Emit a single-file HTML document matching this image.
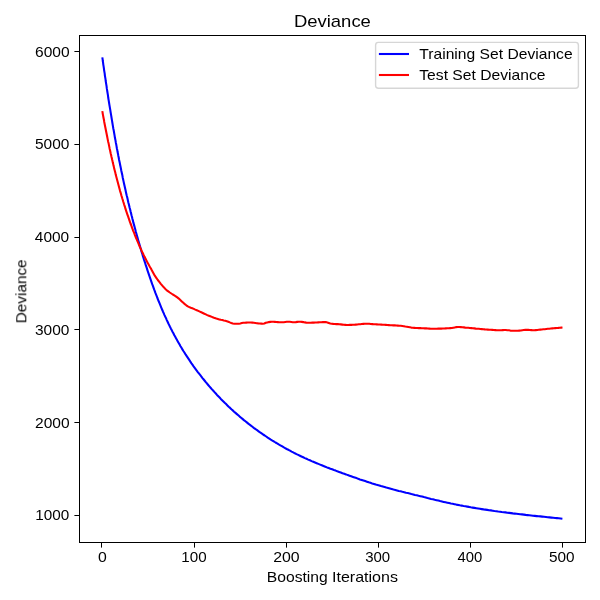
<!DOCTYPE html>
<html>
<head>
<meta charset="utf-8">
<title>Deviance</title>
<style>
html,body{margin:0;padding:0;background:#ffffff;}
body{width:600px;height:600px;overflow:hidden;}
svg{display:block;}
text{font-family:"Liberation Sans",sans-serif;fill:#000000;}
.tk{font-size:14.4px;}
.lb{font-size:14.4px;}
.tt{font-size:17.0px;}
.ax{stroke:#000000;stroke-width:1.11;fill:none;shape-rendering:crispEdges;}
.tick{stroke:#000000;stroke-width:1.11;shape-rendering:crispEdges;}
</style>
</head>
<body>
<svg width="600" height="600" viewBox="0 0 600 600">
<rect x="0" y="0" width="600" height="600" fill="#ffffff"/>
<!-- training curve -->
<path d="M102.3 57.3 L102.6 59.1 L102.8 61.0 L103.1 62.8 L103.3 64.6 L103.6 66.4 L103.9 68.3 L104.1 70.1 L104.4 71.9 L104.7 73.7 L104.9 75.6 L105.2 77.4 L105.5 79.2 L105.7 81.0 L106.0 82.9 L106.3 84.7 L106.6 86.5 L106.8 88.4 L107.1 90.2 L107.4 92.0 L107.7 93.8 L108.0 95.7 L108.2 97.5 L108.5 99.3 L108.8 101.1 L109.1 103.0 L109.4 104.8 L109.7 106.6 L110.0 108.4 L110.3 110.2 L110.6 112.1 L110.9 113.9 L111.2 115.7 L111.5 117.5 L111.8 119.4 L112.1 121.2 L112.4 123.0 L112.7 124.8 L113.0 126.6 L113.3 128.5 L113.7 130.3 L114.0 132.1 L114.3 133.9 L114.6 135.7 L114.9 137.6 L115.3 139.4 L115.6 141.2 L115.9 143.0 L116.3 144.8 L116.6 146.7 L116.9 148.5 L117.3 150.3 L117.6 152.1 L118.0 153.9 L118.3 155.7 L118.7 157.5 L119.0 159.4 L119.4 161.2 L119.8 163.0 L120.1 164.8 L120.5 166.6 L120.9 168.4 L121.2 170.2 L121.6 172.0 L122.0 173.8 L122.4 175.6 L122.7 177.4 L123.1 179.2 L123.5 181.1 L123.9 182.9 L124.3 184.7 L124.7 186.5 L125.1 188.3 L125.5 190.1 L125.9 191.9 L126.3 193.7 L126.7 195.5 L127.2 197.3 L127.6 199.1 L128.0 200.9 L128.4 202.7 L128.9 204.5 L129.3 206.2 L129.7 208.0 L130.2 209.8 L130.6 211.6 L131.1 213.4 L131.5 215.2 L132.0 217.0 L132.4 218.8 L132.9 220.6 L133.3 222.4 L133.8 224.1 L134.3 225.9 L134.8 227.7 L135.3 229.5 L135.7 231.3 L136.2 233.1 L136.7 234.8 L137.2 236.6 L137.7 238.4 L138.2 240.2 L138.7 241.9 L139.2 243.7 L139.8 245.5 L140.3 247.3 L140.8 249.0 L141.3 250.8 L141.9 252.6 L142.4 254.3 L142.9 256.1 L143.5 257.9 L144.0 259.6 L144.6 261.4 L145.2 263.2 L145.7 264.9 L146.3 266.7 L146.9 268.4 L147.4 270.2 L148.0 271.9 L148.6 273.7 L149.2 275.4 L149.8 277.2 L150.4 278.9 L151.0 280.7 L151.6 282.4 L152.2 284.2 L152.9 285.9 L153.5 287.7 L154.1 289.4 L154.8 291.1 L155.4 292.9 L156.1 294.6 L156.8 296.3 L157.4 298.0 L158.1 299.8 L158.8 301.5 L159.5 303.2 L160.2 304.9 L160.9 306.6 L161.6 308.3 L162.3 310.0 L163.0 311.7 L163.8 313.4 L164.5 315.1 L165.3 316.8 L166.1 318.4 L166.8 320.1 L167.6 321.8 L168.4 323.5 L169.2 325.1 L170.0 326.8 L170.8 328.4 L171.7 330.1 L172.5 331.7 L173.4 333.3 L174.2 335.0 L175.1 336.6 L176.0 338.2 L176.9 339.8 L177.8 341.4 L178.7 343.0 L179.6 344.6 L180.5 346.2 L181.5 347.8 L182.4 349.4 L183.4 351.0 L184.4 352.5 L185.4 354.1 L186.4 355.6 L187.4 357.2 L188.4 358.7 L189.4 360.2 L190.5 361.8 L191.5 363.3 L192.6 364.8 L193.6 366.3 L194.7 367.8 L195.8 369.3 L196.9 370.8 L198.0 372.3 L199.1 373.7 L200.3 375.2 L201.4 376.6 L202.5 378.1 L203.7 379.5 L204.9 381.0 L206.0 382.4 L207.2 383.8 L208.4 385.2 L209.6 386.6 L210.8 388.0 L212.0 389.4 L213.3 390.8 L214.5 392.1 L215.8 393.5 L217.0 394.9 L218.3 396.2 L219.6 397.5 L220.8 398.9 L222.1 400.2 L223.4 401.5 L224.7 402.8 L226.1 404.1 L227.4 405.4 L228.7 406.7 L230.1 407.9 L231.4 409.2 L232.8 410.4 L234.1 411.7 L235.5 412.9 L236.9 414.1 L238.3 415.3 L239.7 416.6 L241.1 417.7 L242.5 418.9 L243.9 420.1 L245.4 421.3 L246.8 422.4 L248.3 423.6 L249.7 424.7 L251.2 425.8 L252.7 427.0 L254.1 428.1 L255.6 429.2 L257.1 430.2 L258.6 431.3 L260.1 432.4 L261.6 433.4 L263.1 434.5 L264.7 435.5 L266.2 436.5 L267.7 437.6 L269.3 438.6 L270.8 439.6 L272.4 440.6 L274.0 441.5 L275.5 442.5 L277.1 443.4 L278.7 444.4 L280.3 445.3 L281.9 446.2 L283.5 447.2 L285.1 448.1 L286.7 449.0 L288.4 449.8 L290.0 450.7 L291.6 451.6 L293.2 452.4 L294.9 453.3 L296.5 454.1 L298.2 454.9 L299.9 455.7 L301.5 456.5 L303.2 457.3 L304.9 458.1 L306.5 458.8 L308.2 459.6 L309.9 460.3 L311.6 461.1 L313.3 461.8 L315.0 462.5 L316.7 463.2 L318.4 463.9 L320.1 464.6 L321.8 465.3 L323.5 466.0 L325.3 466.7 L327.0 467.4 L328.7 468.0 L330.4 468.7 L332.2 469.3 L333.9 470.0 L335.6 470.6 L337.3 471.3 L339.1 471.9 L340.8 472.5 L342.5 473.2 L344.3 473.8 L346.0 474.4 L347.8 475.1 L349.5 475.7 L351.2 476.3 L353.0 476.9 L354.7 477.5 L356.5 478.1 L358.2 478.8 L359.9 479.4 L361.7 479.9 L363.4 480.5 L365.2 481.1 L366.9 481.7 L368.7 482.3 L370.4 482.8 L372.2 483.4 L374.0 483.9 L375.7 484.5 L377.5 485.0 L379.3 485.5 L381.0 486.1 L382.8 486.6 L384.6 487.1 L386.3 487.6 L388.1 488.0 L389.9 488.5 L391.7 489.0 L393.5 489.5 L395.3 489.9 L397.0 490.4 L398.8 490.9 L400.6 491.3 L402.4 491.8 L404.2 492.2 L406.0 492.7 L407.8 493.1 L409.6 493.5 L411.4 494.0 L413.2 494.4 L415.0 494.9 L416.8 495.3 L418.6 495.8 L420.3 496.2 L422.1 496.6 L423.9 497.1 L425.7 497.5 L427.5 498.0 L429.3 498.4 L431.1 498.9 L432.9 499.3 L434.7 499.8 L436.5 500.2 L438.3 500.6 L440.1 501.1 L441.9 501.5 L443.7 501.9 L445.5 502.3 L447.3 502.7 L449.1 503.1 L450.9 503.5 L452.7 503.8 L454.5 504.2 L456.3 504.6 L458.1 504.9 L459.9 505.3 L461.7 505.6 L463.5 506.0 L465.4 506.3 L467.2 506.6 L469.0 506.9 L470.8 507.3 L472.6 507.6 L474.4 507.9 L476.3 508.2 L478.1 508.5 L479.9 508.8 L481.7 509.1 L483.6 509.4 L485.4 509.6 L487.2 509.9 L489.0 510.2 L490.9 510.4 L492.7 510.7 L494.5 511.0 L496.3 511.2 L498.2 511.5 L500.0 511.7 L501.8 512.0 L503.7 512.2 L505.5 512.4 L507.3 512.7 L509.2 512.9 L511.0 513.1 L512.8 513.4 L514.7 513.6 L516.5 513.8 L518.3 514.0 L520.2 514.2 L522.0 514.4 L523.8 514.6 L525.7 514.9 L527.5 515.1 L529.3 515.3 L531.2 515.5 L533.0 515.7 L534.8 515.9 L536.7 516.1 L538.5 516.3 L540.4 516.4 L542.2 516.6 L544.0 516.8 L545.9 517.0 L547.7 517.2 L549.5 517.4 L551.4 517.6 L553.2 517.8 L555.1 518.0 L556.9 518.1 L558.7 518.3 L560.6 518.5 L562.4 518.7" fill="none" stroke="#0000ff" stroke-width="2.08" stroke-linejoin="round" stroke-linecap="butt"/>
<!-- test curve -->
<path d="M102.3 111.1 L102.6 112.6 L102.8 114.1 L103.1 115.6 L103.4 117.2 L103.7 118.7 L104.0 120.2 L104.2 121.7 L104.5 123.2 L104.8 124.7 L105.1 126.2 L105.4 127.8 L105.7 129.3 L106.0 130.8 L106.3 132.3 L106.6 133.8 L106.9 135.3 L107.2 136.8 L107.5 138.4 L107.8 139.9 L108.1 141.4 L108.5 142.9 L108.8 144.4 L109.1 145.9 L109.4 147.4 L109.7 149.0 L110.1 150.5 L110.4 152.0 L110.7 153.5 L111.1 155.0 L111.4 156.5 L111.8 158.0 L112.1 159.5 L112.5 161.1 L112.8 162.6 L113.2 164.1 L113.5 165.6 L113.9 167.1 L114.2 168.6 L114.6 170.1 L115.0 171.6 L115.4 173.1 L115.7 174.6 L116.1 176.1 L116.5 177.6 L116.9 179.1 L117.3 180.6 L117.7 182.1 L118.1 183.6 L118.5 185.1 L118.9 186.6 L119.3 188.1 L119.7 189.6 L120.1 191.1 L120.6 192.6 L121.0 194.1 L121.4 195.6 L121.9 197.0 L122.3 198.5 L122.8 200.0 L123.2 201.5 L123.7 203.0 L124.1 204.5 L124.6 205.9 L125.1 207.4 L125.5 208.9 L126.0 210.4 L126.5 211.8 L127.0 213.3 L127.5 214.8 L128.0 216.2 L128.5 217.7 L129.0 219.2 L129.5 220.6 L130.0 222.1 L130.5 223.5 L131.1 225.0 L131.6 226.4 L132.1 227.9 L132.7 229.3 L133.2 230.8 L133.8 232.2 L134.4 233.7 L134.9 235.1 L135.5 236.5 L136.1 238.0 L136.7 239.4 L137.3 240.8 L137.9 242.2 L138.5 243.7 L139.1 245.1 L139.7 246.5 L140.3 247.9 L141.0 249.3 L141.6 250.7 L142.3 252.1 L143.0 253.5 L143.6 254.9 L144.3 256.3 L145.0 257.6 L145.7 259.0 L146.4 260.4 L147.1 261.8 L147.8 263.1 L148.6 264.5 L149.3 265.8 L150.1 267.2 L150.9 268.5 L151.6 269.8 L151.8 270.2 L153.3 273.0 L154.8 275.7 L156.3 277.9 L157.8 280.0 L159.3 281.9 L160.8 283.8 L162.3 285.6 L163.8 287.3 L165.3 288.9 L166.8 290.3 L168.3 291.4 L169.8 292.5 L171.3 293.5 L172.8 294.5 L174.3 295.4 L175.8 296.3 L177.3 297.4 L178.8 298.6 L180.3 300.0 L181.8 301.4 L183.3 302.8 L184.8 304.1 L186.3 305.3 L187.8 306.4 L189.3 307.1 L190.8 307.8 L192.3 308.3 L193.8 308.9 L195.3 309.6 L196.8 310.2 L198.3 310.9 L199.8 311.6 L201.3 312.3 L202.8 313.0 L204.3 313.7 L205.8 314.4 L207.3 315.1 L208.8 315.7 L210.3 316.3 L211.8 316.9 L213.3 317.5 L214.8 318.1 L216.3 318.6 L217.8 319.0 L219.3 319.4 L220.8 319.8 L222.3 320.1 L223.8 320.5 L225.3 320.8 L226.8 321.2 L228.3 321.7 L229.8 322.4 L231.3 323.0 L232.8 323.5 L234.3 323.8 L235.8 323.8 L237.3 323.8 L238.8 323.8 L240.3 323.5 L241.8 323.1 L243.3 322.8 L244.8 322.7 L246.3 322.6 L247.8 322.5 L249.3 322.5 L250.8 322.5 L252.3 322.6 L253.8 322.8 L255.3 323.0 L256.8 323.2 L258.3 323.4 L259.8 323.5 L261.3 323.6 L262.8 323.7 L264.3 323.5 L265.8 322.8 L267.3 322.4 L268.8 322.1 L270.3 321.9 L271.8 321.8 L273.3 321.8 L274.8 321.9 L276.3 322.0 L277.8 322.1 L279.3 322.2 L280.8 322.3 L282.3 322.3 L283.8 322.2 L285.3 322.0 L286.8 321.8 L288.3 321.7 L289.8 321.8 L291.3 322.0 L292.8 322.2 L294.3 322.2 L295.8 322.1 L297.3 321.9 L298.8 321.8 L300.3 321.8 L301.8 321.9 L303.3 322.1 L304.8 322.4 L306.3 322.6 L307.8 322.7 L309.3 322.7 L310.8 322.7 L312.3 322.6 L313.8 322.6 L315.3 322.5 L316.8 322.5 L318.3 322.4 L319.8 322.3 L321.3 322.2 L322.8 322.1 L324.3 322.0 L325.8 322.1 L327.3 322.4 L328.8 322.9 L330.3 323.4 L331.8 323.7 L333.3 323.9 L334.8 324.0 L336.3 324.1 L337.8 324.1 L339.3 324.2 L340.8 324.4 L342.3 324.6 L343.8 324.8 L345.3 324.9 L346.8 325.0 L348.3 325.0 L349.8 324.9 L351.3 324.9 L352.8 324.8 L354.3 324.7 L355.8 324.6 L357.3 324.5 L358.8 324.3 L360.3 324.2 L361.8 324.0 L363.3 323.9 L364.8 323.8 L366.3 323.7 L367.8 323.7 L369.3 323.8 L370.8 324.0 L372.3 324.1 L373.8 324.2 L375.3 324.3 L376.8 324.4 L378.3 324.5 L379.8 324.5 L381.3 324.6 L382.8 324.7 L384.3 324.8 L385.8 324.9 L387.3 325.0 L388.8 325.1 L390.3 325.2 L391.8 325.3 L393.3 325.4 L394.8 325.4 L396.3 325.5 L397.8 325.6 L399.3 325.7 L400.8 325.8 L402.3 326.0 L403.8 326.2 L405.3 326.5 L406.8 326.7 L408.3 327.0 L409.8 327.3 L411.3 327.6 L412.8 327.8 L414.3 327.9 L415.8 328.0 L417.3 328.0 L418.8 328.1 L420.3 328.1 L421.8 328.2 L423.3 328.3 L424.8 328.4 L426.3 328.4 L427.8 328.5 L429.3 328.6 L430.8 328.7 L432.3 328.7 L433.8 328.7 L435.3 328.7 L436.8 328.7 L438.3 328.6 L439.8 328.6 L441.3 328.6 L442.8 328.5 L444.3 328.5 L445.8 328.4 L447.3 328.3 L448.8 328.2 L450.3 328.1 L451.8 328.0 L453.3 327.7 L454.8 327.4 L456.3 327.1 L457.8 327.0 L459.3 327.0 L460.8 327.1 L462.3 327.3 L463.8 327.4 L465.3 327.6 L466.8 327.7 L468.3 327.8 L469.8 328.0 L471.3 328.1 L472.8 328.3 L474.3 328.4 L475.8 328.6 L477.3 328.7 L478.8 328.8 L480.3 329.0 L481.8 329.1 L483.3 329.2 L484.8 329.4 L486.3 329.5 L487.8 329.6 L489.3 329.7 L490.8 329.8 L492.3 329.9 L493.8 330.0 L495.3 330.1 L496.8 330.2 L498.3 330.3 L499.8 330.3 L501.3 330.2 L502.8 330.1 L504.3 330.0 L505.8 330.0 L507.3 330.2 L508.8 330.3 L510.3 330.6 L511.8 330.7 L513.3 330.8 L514.8 330.8 L516.3 330.8 L517.8 330.7 L519.3 330.6 L520.8 330.5 L522.3 330.2 L523.8 330.0 L525.3 329.9 L526.8 329.8 L528.3 329.9 L529.8 330.0 L531.3 330.1 L532.8 330.2 L534.3 330.2 L535.8 330.1 L537.3 330.0 L538.8 329.8 L540.3 329.6 L541.8 329.5 L543.3 329.3 L544.8 329.2 L546.3 329.0 L547.8 328.8 L549.3 328.7 L550.8 328.5 L552.3 328.4 L553.8 328.3 L555.3 328.1 L556.8 328.0 L558.3 327.9 L559.8 327.7 L561.3 327.6 L562.5 327.5" fill="none" stroke="#ff0000" stroke-width="2.08" stroke-linejoin="round" stroke-linecap="butt"/>
<!-- axes frame -->
<rect class="ax" x="79.5" y="35.5" width="506" height="507"/>
<!-- x ticks -->
<rect x="101.0" y="543" width="1" height="4.6" fill="#000000"/>
<rect x="194.0" y="543" width="1" height="4.6" fill="#000000"/>
<rect x="286.0" y="543" width="1" height="4.6" fill="#000000"/>
<rect x="378.0" y="543" width="1" height="4.6" fill="#000000"/>
<rect x="470.0" y="543" width="1" height="4.6" fill="#000000"/>
<rect x="562.0" y="543" width="1" height="4.6" fill="#000000"/>
<!-- y ticks -->
<rect x="74.4" y="51.0" width="4.6" height="1" fill="#000000"/>
<rect x="74.4" y="144.0" width="4.6" height="1" fill="#000000"/>
<rect x="74.4" y="237.0" width="4.6" height="1" fill="#000000"/>
<rect x="74.4" y="329.0" width="4.6" height="1" fill="#000000"/>
<rect x="74.4" y="422.0" width="4.6" height="1" fill="#000000"/>
<rect x="74.4" y="515.0" width="4.6" height="1" fill="#000000"/>
<g id="labels" style="will-change:opacity;opacity:0.999">
<!-- x tick labels -->
<text class="tk" x="98" y="562" textLength="8.8" lengthAdjust="spacingAndGlyphs">0</text>
<text class="tk" x="181.3" y="562" textLength="25.3" lengthAdjust="spacingAndGlyphs">100</text>
<text class="tk" x="273.2" y="562" textLength="26.5" lengthAdjust="spacingAndGlyphs">200</text>
<text class="tk" x="365.2" y="562" textLength="25.0" lengthAdjust="spacingAndGlyphs">300</text>
<text class="tk" x="457.4" y="562" textLength="24.8" lengthAdjust="spacingAndGlyphs">400</text>
<text class="tk" x="549.0" y="562" textLength="25.6" lengthAdjust="spacingAndGlyphs">500</text>
<!-- y tick labels -->
<text class="tk" x="35" y="57" textLength="34.6" lengthAdjust="spacingAndGlyphs">6000</text>
<text class="tk" x="35" y="149" textLength="34.4" lengthAdjust="spacingAndGlyphs">5000</text>
<text class="tk" x="34.8" y="242" textLength="34.4" lengthAdjust="spacingAndGlyphs">4000</text>
<text class="tk" x="35" y="335" textLength="34.4" lengthAdjust="spacingAndGlyphs">3000</text>
<text class="tk" x="35" y="428" textLength="34.6" lengthAdjust="spacingAndGlyphs">2000</text>
<text class="tk" x="35.3" y="520" textLength="34.0" lengthAdjust="spacingAndGlyphs">1000</text>
<!-- axis labels and title -->
<text class="lb" x="266.8" y="582" textLength="61.0" lengthAdjust="spacingAndGlyphs">Boosting</text>
<text class="lb" x="332.0" y="582" textLength="66.0" lengthAdjust="spacingAndGlyphs">Iterations</text>
<text class="lb" transform="translate(26.3 323.3) rotate(-90)" x="0" y="0" textLength="63.9" lengthAdjust="spacingAndGlyphs">Deviance</text>
<text class="tt" x="293.9" y="27" textLength="77.0" lengthAdjust="spacingAndGlyphs">Deviance</text>
</g>
<!-- legend -->
<rect x="375.6" y="42.4" width="202.8" height="45.9" rx="2.8" ry="2.8" fill="#ffffff" fill-opacity="0.8" stroke="#cccccc" stroke-opacity="0.8" stroke-width="1.39"/>
<line x1="378.9" y1="54.0" x2="409.0" y2="54.0" stroke="#0000ff" stroke-width="2.08"/>
<line x1="378.9" y1="75.0" x2="409.0" y2="75.0" stroke="#ff0000" stroke-width="2.08"/>
<g style="will-change:opacity;opacity:0.999">
<text class="lb" x="419.3" y="58.7" textLength="153.3" lengthAdjust="spacingAndGlyphs">Training Set Deviance</text>
<text class="lb" x="419.3" y="79.7" textLength="126.2" lengthAdjust="spacingAndGlyphs">Test Set Deviance</text>
</g>
</svg>
</body>
</html>
